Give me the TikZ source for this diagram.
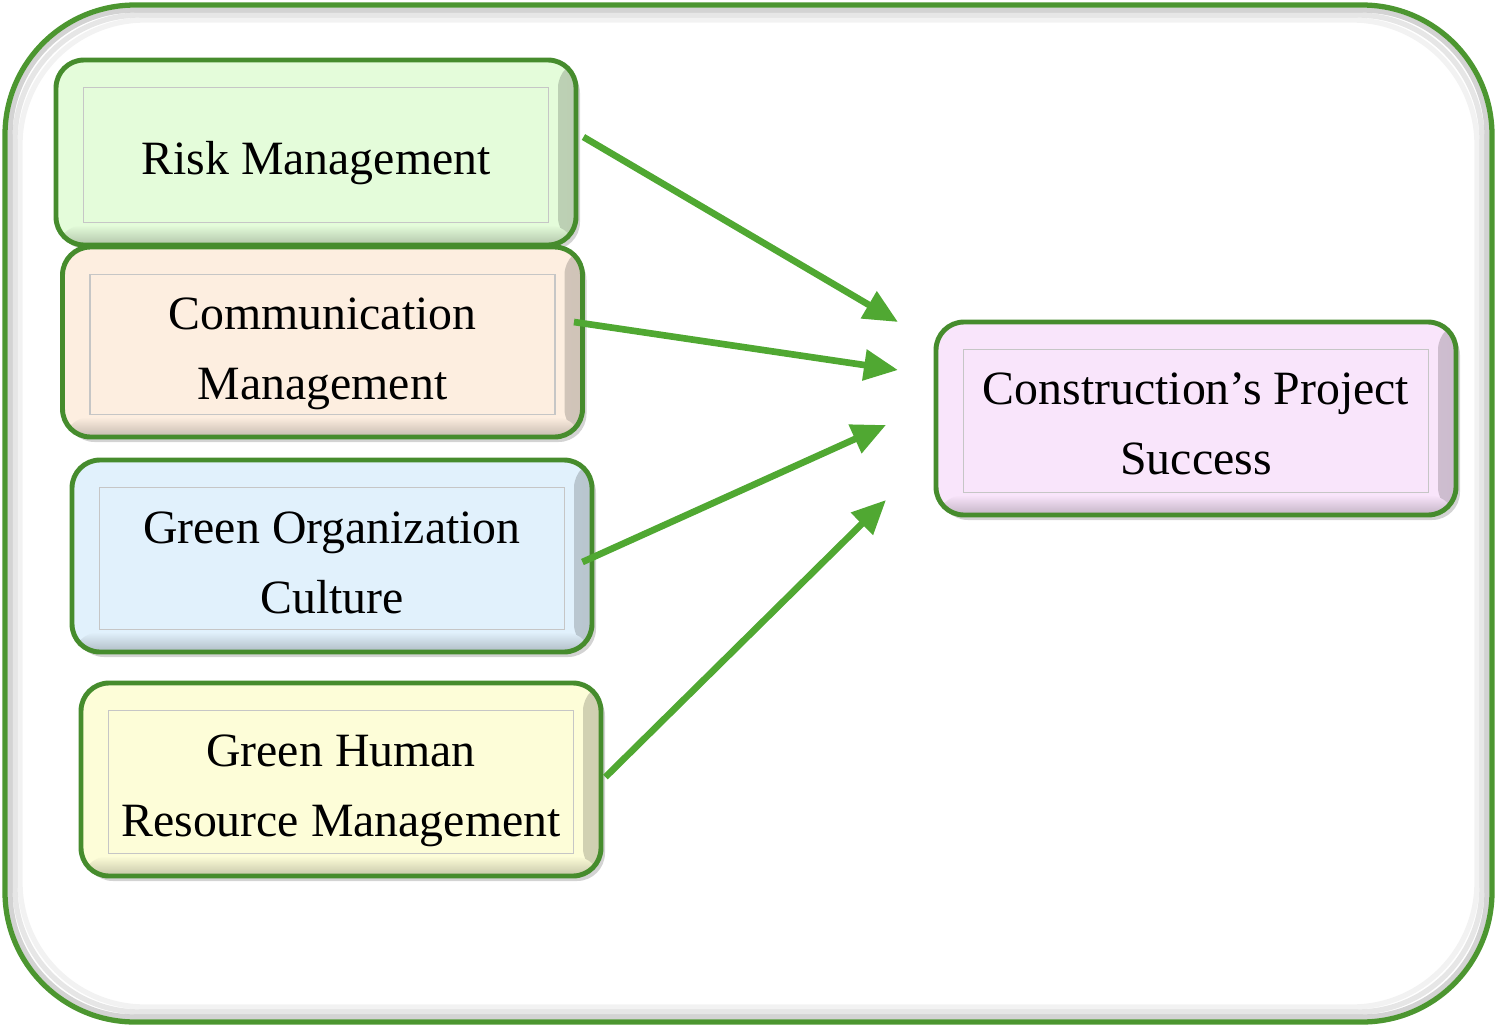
\documentclass[tikz,border=0pt]{standalone}
\usepackage{fontspec}
\setmainfont{Liberation Serif}
\usetikzlibrary{positioning,arrows.meta,shadows}
\definecolor{framegreen}{RGB}{76,150,48}
\definecolor{boxgreen}{RGB}{70,140,45}
\definecolor{arrowgreen}{RGB}{80,168,50}
\definecolor{riskfill}{RGB}{228,252,218}
\definecolor{commfill}{RGB}{253,238,224}
\definecolor{culturefill}{RGB}{225,241,252}
\definecolor{hrmfill}{RGB}{253,253,216}
\definecolor{successfill}{RGB}{249,229,251}
\newcommand{\lift}{\rule{0pt}{0.55cm}}
\tikzset{
  factor/.style={rectangle, rounded corners=0.28cm, draw=boxgreen, line width=1.4pt,
    minimum width=5.2cm, minimum height=1.9cm, align=center, fill=#1,
    font=\fontsize{13.6}{20}\selectfont,
    path picture={
      \shade[left color=#1, right color=#1!82!black]
        ([xshift=-0.18cm]path picture bounding box.south east) rectangle (path picture bounding box.north east);
      \shade[top color=#1, bottom color=#1!78!black]
        ([yshift=0.2cm]path picture bounding box.south west) rectangle (path picture bounding box.south east);
    },
    drop shadow={opacity=0.35, shadow xshift=0.04cm, shadow yshift=-0.05cm}},
  innerframe/.style={draw=gray!45, line width=0.5pt},
  link/.style={draw=arrowgreen, line width=1.9pt, -{Triangle[length=0.34cm,width=0.3cm]}},
}
\newcommand{\innerbox}[1]{\draw[innerframe] ([shift={(0.3,0.25)}]#1.south west) rectangle ([shift={(-0.3,-0.3)}]#1.north east);}

\begin{document}
\begin{tikzpicture}
	\useasboundingbox (0,0) rectangle (14.97,-10.27);

	% outer frame
	\foreach \d/\o in {0.05/0.35, 0.10/0.2, 0.15/0.1}
	{
		\draw[gray, line width=1.5pt, opacity=\o, rounded corners=1.25cm] (0.05+\d,-0.05-\d) rectangle (14.92-\d,-10.22+\d);
	}
	\draw[framegreen, line width=1.5pt, rounded corners=1.3cm] (0.05,-0.05) rectangle (14.92,-10.22);

	% factors
	\node[factor=riskfill, minimum height=1.85cm] (risk) at (3.16,-1.525) {\lift Risk Management};
	\node[factor=commfill] (comm) at (3.225,-3.42) {\lift Communication\\Management};
	\node[factor=culturefill, minimum height=1.92cm] (culture) at (3.32,-5.56) {\rule{0pt}{0.45cm}Green Organization\\Culture};
	\node[factor=hrmfill, minimum height=1.93cm] (hrm) at (3.41,-7.795) {\lift Green Human\\Resource Management};

	% outcome
	\node[factor=successfill, minimum height=1.93cm] (success) at (11.96,-4.185) {\rule{0pt}{0.43cm}Construction’s Project\\Success};

	\foreach \n in {risk, comm, culture, hrm, success}
	{
		\innerbox{\n}
	}

	% arrow tips
	\coordinate (tip1) at (8.98,-3.22);
	\coordinate (tip2) at (8.98,-3.70);
	\coordinate (tip3) at (8.86,-4.25);
	\coordinate (tip4) at (8.86,-5.00);

	\draw[link] ([shift={(0.05,0.155)}]risk.east) -- (tip1);
	\draw[link] ([shift={(-0.11,0.20)}]comm.east) -- (tip2);
	\draw[link] ([shift={(-0.12,-0.06)}]culture.east) -- (tip3);
	\draw[link] ([shift={(0.02,0.025)}]hrm.east) -- (tip4);

\end{tikzpicture}
\end{document}
